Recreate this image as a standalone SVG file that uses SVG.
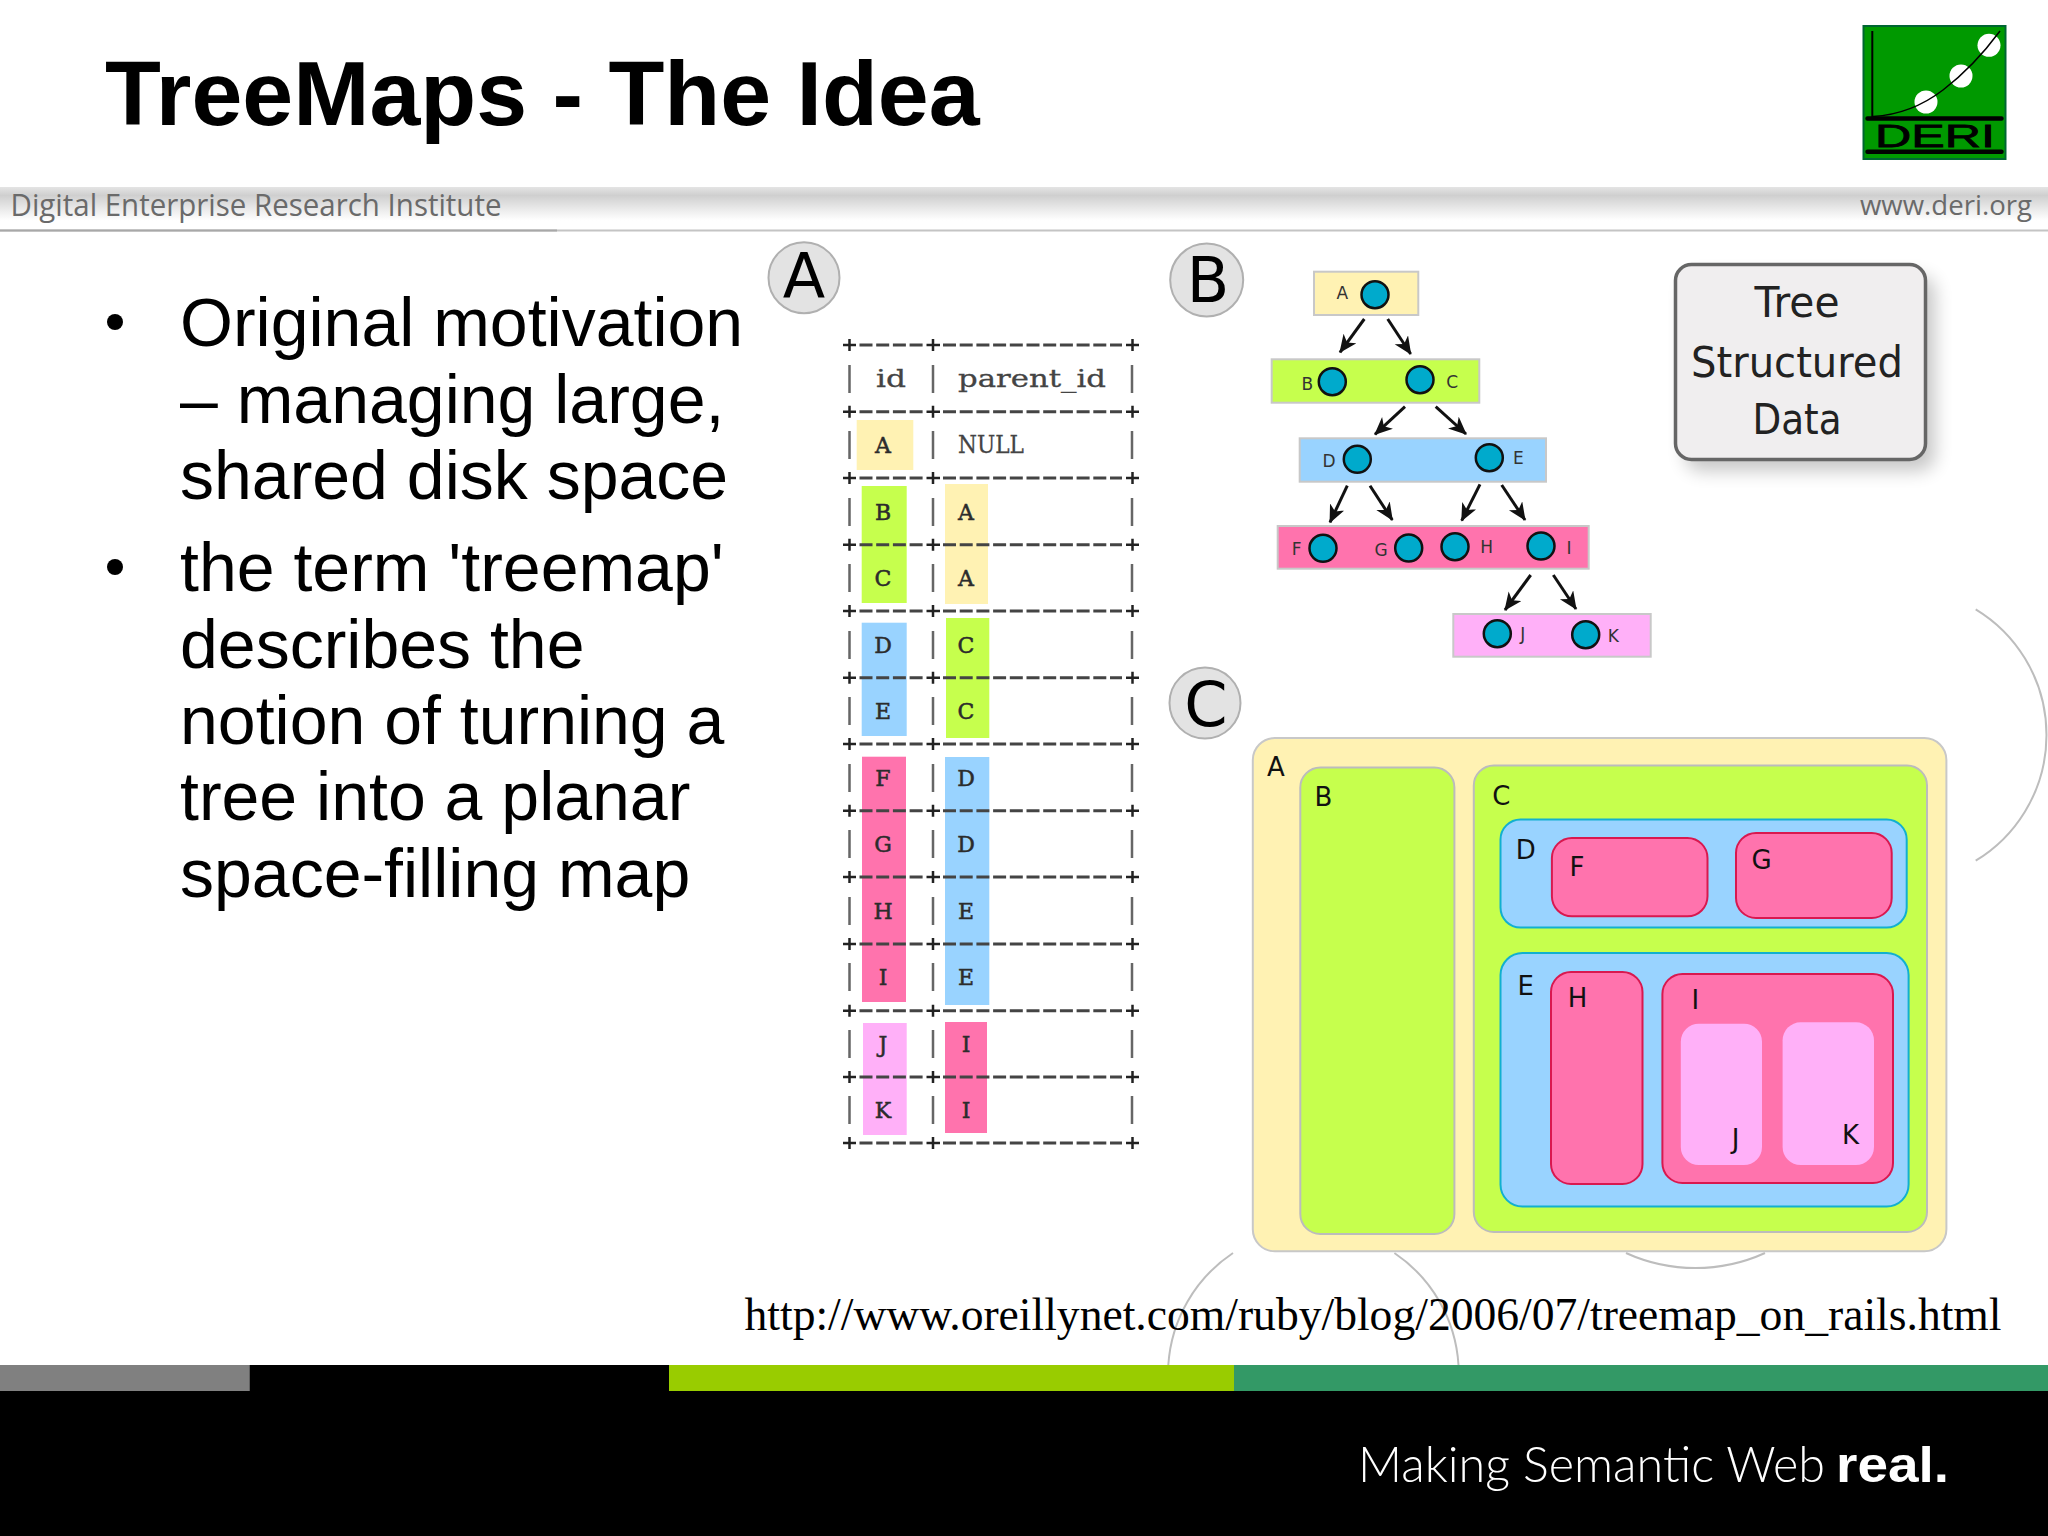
<svg xmlns="http://www.w3.org/2000/svg" xmlns:xlink="http://www.w3.org/1999/xlink" width="2048" height="1536" viewBox="0 0 2048 1536">
<style>
.sans{font-family:"Liberation Sans",Arial,sans-serif}
.body{font-family:"Liberation Sans",Arial,sans-serif;font-size:68px;fill:#000}
.mono{font-family:"DejaVu Serif","Liberation Serif",serif;font-size:22px;fill:#2c2c2c;stroke:#2c2c2c;stroke-width:0.5;text-anchor:middle}
.mono2{font-family:"DejaVu Serif","Liberation Serif",serif;font-size:24px;fill:#444;stroke:#444;stroke-width:0.3}
.tl{font-family:"DejaVu Sans",sans-serif;font-size:17px;fill:#333;text-anchor:middle}
.ml{font-family:"DejaVu Sans",sans-serif;font-size:26px;fill:#111;text-anchor:middle}
.big{font-family:"DejaVu Sans",sans-serif;font-size:62px;fill:#000;text-anchor:middle}
.tsd{font-family:"DejaVu Sans",sans-serif;font-size:43px;fill:#222;text-anchor:middle}
.bad{fill:#e3e3e3;stroke:#b0b0b0;stroke-width:2}
.nd{fill:#00aacc;stroke:#111;stroke-width:2.5}
.bar{stroke:#666;stroke-width:2.5;fill:none}
.dash{stroke:#444;stroke-width:3;stroke-dasharray:13 3.7;fill:none}
.plus{stroke:#222;stroke-width:2.5;fill:none}
.arc{fill:none;stroke:#bdbdbd;stroke-width:2}
.arrow{stroke:#111;stroke-width:3;fill:none;marker-end:url(#ah)}
.y{fill:#fff2b3}.g{fill:#c6ff4d}.b{fill:#99d3ff}.p{fill:#ff73ad}.l{fill:#ffb0f8}
.tb{stroke:#c8c8c8;stroke-width:2}
.sg{stroke:#bcbcbc;stroke-width:2}
.sb{stroke:#12b0cf;stroke-width:2}
.sp{stroke:#d9184f;stroke-width:2}
.h{font-family:"Open Sans","Liberation Sans",sans-serif;font-size:31px;fill:#6a6a6a}
</style>
<defs>
<linearGradient id="band" x1="0" y1="0" x2="0" y2="1">
<stop offset="0" stop-color="#e4e4e4"/>
<stop offset="0.2" stop-color="#cfcfcf"/>
<stop offset="0.55" stop-color="#ececec"/>
<stop offset="0.8" stop-color="#ffffff"/>
<stop offset="1" stop-color="#ffffff"/>
</linearGradient>
<filter id="sh" x="-20%" y="-20%" width="150%" height="150%"><feGaussianBlur stdDeviation="9"/></filter>
<marker id="ah" markerUnits="userSpaceOnUse" markerWidth="20" markerHeight="18" refX="17" refY="8" orient="auto">
<path d="M0 0 L18 8 L0 16 L5 8 Z" fill="#111"/>
</marker>
<g id="rl">
<path class="dash" d="M859.500 0H923M943 0H1122"/>
<path class="plus" d="M843 0H856M849.500 -6V6M926.500 0H940M933 -6V6M1126 0H1139M1132.500 -6V6"/>
</g>
<g id="rb">
<path class="bar" d="M849.500 -14V14M933 -14V14M1132 -14V14"/>
</g>
</defs>
<rect width="2048" height="1536" fill="#ffffff"/>

<g id="header">
<text class="sans" x="105" y="125" font-size="91.500" font-weight="bold" fill="#000">TreeMaps - The Idea</text>
<rect x="0" y="187" width="2048" height="42" fill="url(#band)"/>
<rect x="0" y="229.500" width="2048" height="2" fill="#c4c4c4"/>
<rect x="0" y="229.500" width="557" height="2" fill="#a8a8a8"/>
<text class="h" x="10.500" y="216" textLength="491" lengthAdjust="spacingAndGlyphs">Digital Enterprise Research Institute</text>
<text class="h" x="1860" y="215" style="font-size:28px" textLength="172" lengthAdjust="spacingAndGlyphs">www.deri.org</text>
</g>

<g id="logo">
<rect x="1863.500" y="26" width="142" height="133" fill="#009900" stroke="#063" stroke-width="2"/>
<path d="M1872.300 31V117" stroke="#000" stroke-width="2" fill="none"/>
<circle cx="1926" cy="102" r="11.500" fill="#fff"/>
<circle cx="1961" cy="76" r="11.500" fill="#fff"/>
<circle cx="1989" cy="45.300" r="11.500" fill="#fff"/>
<path d="M1873 116.500C1900 115 1922 106 1943 90S1980 58 2000 31" stroke="#000" stroke-width="1.500" fill="none"/>
<path d="M1867.500 118.500H2001.500M1867.500 151.700H2001.500" stroke="#000" stroke-width="4.500" stroke-linecap="round" fill="none"/>
<text class="sans" x="1875" y="146.700" font-size="32" fill="#000" stroke="#000" stroke-width="0.800" textLength="120" lengthAdjust="spacingAndGlyphs">DERI</text>
</g>

<g id="bullets">
<circle cx="115" cy="322" r="8" fill="#000"/>
<circle cx="115" cy="567" r="8" fill="#000"/>
<text class="body" x="180" y="346">Original motivation</text>
<text class="body" x="180" y="423">– managing large,</text>
<text class="body" x="180" y="499">shared disk space</text>
<text class="body" x="180" y="591">the term 'treemap'</text>
<text class="body" x="180" y="668">describes the</text>
<text class="body" x="180" y="744">notion of turning a</text>
<text class="body" x="180" y="820">tree into a planar</text>
<text class="body" x="180" y="897">space-filling map</text>
</g>

<g id="arcs">
<path class="arc" d="M1975.700 609.300A147 147 0 0 1 1975.700 860.700"/>
<path class="arc" d="M1233 1253A146 146 0 0 0 1168.300 1365"/>
<path class="arc" d="M1394.400 1253A146 146 0 0 1 1458.500 1365"/>
<path class="arc" d="M1626 1253A168 168 0 0 0 1765 1253"/>
</g>

<g id="badge-a"><circle class="bad" cx="804" cy="277.700" r="35.500"/><text class="big" x="804" y="298">A</text></g>
<g id="badge-b"><circle class="bad" cx="1206.700" cy="280" r="36.500"/><text class="big" x="1208" y="302">B</text></g>
<g id="badge-c"><circle class="bad" cx="1205" cy="703" r="35.500"/><text class="big" x="1206" y="726">C</text></g>

<g id="table">
<rect class="y" x="856.700" y="420" width="56.600" height="50"/>
<rect class="g" x="861.700" y="486" width="45" height="117"/>
<rect class="y" x="945" y="484" width="43" height="120"/>
<rect class="b" x="861.700" y="622.700" width="45" height="113.300"/>
<rect class="g" x="946" y="618" width="43.300" height="120"/>
<rect class="p" x="862" y="756.700" width="44" height="245.300"/>
<rect class="b" x="945" y="757" width="44.300" height="248"/>
<rect class="l" x="863" y="1023" width="43.700" height="112"/>
<rect class="p" x="945" y="1022" width="42" height="111"/>
<use xlink:href="#rl" href="#rl" y="345"/><use xlink:href="#rl" href="#rl" y="411.700"/><use xlink:href="#rl" href="#rl" y="478"/><use xlink:href="#rl" href="#rl" y="544.700"/><use xlink:href="#rl" href="#rl" y="611"/><use xlink:href="#rl" href="#rl" y="677.700"/><use xlink:href="#rl" href="#rl" y="744"/><use xlink:href="#rl" href="#rl" y="810.700"/><use xlink:href="#rl" href="#rl" y="877"/><use xlink:href="#rl" href="#rl" y="944"/><use xlink:href="#rl" href="#rl" y="1010.700"/><use xlink:href="#rl" href="#rl" y="1077"/><use xlink:href="#rl" href="#rl" y="1143"/>
<use xlink:href="#rb" href="#rb" y="379"/><use xlink:href="#rb" href="#rb" y="445"/><use xlink:href="#rb" href="#rb" y="512"/><use xlink:href="#rb" href="#rb" y="578"/><use xlink:href="#rb" href="#rb" y="645"/><use xlink:href="#rb" href="#rb" y="711"/><use xlink:href="#rb" href="#rb" y="778"/><use xlink:href="#rb" href="#rb" y="844"/><use xlink:href="#rb" href="#rb" y="911"/><use xlink:href="#rb" href="#rb" y="977"/><use xlink:href="#rb" href="#rb" y="1044"/><use xlink:href="#rb" href="#rb" y="1110"/>
<text class="mono2" x="876" y="387" textLength="30" lengthAdjust="spacingAndGlyphs">id</text>
<text class="mono2" x="958" y="387" textLength="148" lengthAdjust="spacingAndGlyphs">parent_id</text>
<text class="mono2" x="958" y="453" textLength="66" lengthAdjust="spacingAndGlyphs">NULL</text>
<g class="ids">
<text class="mono" x="883" y="452.500">A</text>
<text class="mono" x="883" y="519.500">B</text>
<text class="mono" x="883" y="585.500">C</text>
<text class="mono" x="883" y="652.500">D</text>
<text class="mono" x="883" y="718.500">E</text>
<text class="mono" x="883" y="785.500">F</text>
<text class="mono" x="883" y="851.500">G</text>
<text class="mono" x="883" y="918.500">H</text>
<text class="mono" x="883" y="984.500">I</text>
<text class="mono" x="883" y="1051.500">J</text>
<text class="mono" x="883" y="1117.500">K</text>
<text class="mono" x="966" y="519.500">A</text>
<text class="mono" x="966" y="585.500">A</text>
<text class="mono" x="966" y="652.500">C</text>
<text class="mono" x="966" y="718.500">C</text>
<text class="mono" x="966" y="785.500">D</text>
<text class="mono" x="966" y="851.500">D</text>
<text class="mono" x="966" y="918.500">E</text>
<text class="mono" x="966" y="984.500">E</text>
<text class="mono" x="966" y="1051.500">I</text>
<text class="mono" x="966" y="1117.500">I</text>
</g>
</g>

<g id="tree-levels">
<rect class="y tb" x="1314" y="271.700" width="104.300" height="43.300"/>
<rect class="g tb" x="1271.700" y="359.300" width="207.600" height="43.400"/>
<rect class="b tb" x="1299.700" y="438.300" width="246.300" height="43.400"/>
<rect class="p tb" x="1277.700" y="526" width="311" height="42.700"/>
<rect class="l tb" x="1453.300" y="614" width="197.400" height="42.700"/>
</g>
<g id="tree-connectors">
<path class="arrow" d="M1364.300 319L1340 352.300"/>
<path class="arrow" d="M1387.700 319L1410.700 354"/>
<path class="arrow" d="M1405 406.700L1375 434.300"/>
<path class="arrow" d="M1435.700 406.700L1466 434"/>
<path class="arrow" d="M1347.300 485.700L1330 522.300"/>
<path class="arrow" d="M1370 485.700L1392.300 520"/>
<path class="arrow" d="M1480 484.300L1461.700 520.700"/>
<path class="arrow" d="M1501.700 485L1525 520"/>
<path class="arrow" d="M1530.700 575L1505 610"/>
<path class="arrow" d="M1553.300 575L1576 609"/>
</g>
<g id="tree-a"><circle class="nd" cx="1375" cy="294.700" r="13.500"/><text class="tl" x="1342.300" y="299.300">A</text></g>
<g id="tree-b"><circle class="nd" cx="1332.300" cy="381.700" r="13.500"/><text class="tl" x="1307.300" y="390">B</text></g>
<g id="tree-c"><circle class="nd" cx="1420" cy="379.700" r="13.500"/><text class="tl" x="1452.300" y="388.300">C</text></g>
<g id="tree-d"><circle class="nd" cx="1357.300" cy="459.300" r="13.500"/><text class="tl" x="1329" y="466.700">D</text></g>
<g id="tree-e"><circle class="nd" cx="1489.300" cy="457.700" r="13.500"/><text class="tl" x="1518.300" y="464">E</text></g>
<g id="tree-f"><circle class="nd" cx="1323" cy="548.300" r="13.500"/><text class="tl" x="1296.700" y="555">F</text></g>
<g id="tree-g"><circle class="nd" cx="1408.700" cy="548" r="13.500"/><text class="tl" x="1381" y="555.700">G</text></g>
<g id="tree-h"><circle class="nd" cx="1455" cy="546.700" r="13.500"/><text class="tl" x="1486.700" y="553.300">H</text></g>
<g id="tree-i"><circle class="nd" cx="1541" cy="546" r="13.500"/><text class="tl" x="1569" y="554.300">I</text></g>
<g id="tree-j"><circle class="nd" cx="1497.300" cy="633.700" r="13.500"/><text class="tl" x="1522.700" y="640">J</text></g>
<g id="tree-k"><circle class="nd" cx="1585.700" cy="634.700" r="13.500"/><text class="tl" x="1613.300" y="642.300">K</text></g>

<g id="tree-structured-data">
<rect x="1685" y="276" width="250" height="195" rx="16" fill="#000" opacity="0.22" filter="url(#sh)"/>
<rect x="1675.500" y="264.500" width="250" height="195" rx="16" fill="#f0eeef" stroke="#666" stroke-width="3.500"/>
<text class="tsd" x="1797" y="316.700" textLength="85" lengthAdjust="spacingAndGlyphs">Tree</text>
<text class="tsd" x="1797" y="376.700" textLength="212" lengthAdjust="spacingAndGlyphs">Structured</text>
<text class="tsd" x="1797" y="434.300" textLength="89" lengthAdjust="spacingAndGlyphs">Data</text>
</g>

<g id="map-a"><rect class="y tb" x="1252.800" y="738" width="693.600" height="513.300" rx="22"/><text class="ml" x="1276" y="776">A</text></g>
<g id="map-b"><rect class="g sg" x="1300.300" y="767.500" width="154.100" height="466.500" rx="20"/><text class="ml" x="1323.500" y="805.500">B</text></g>
<g id="map-c"><rect class="g sg" x="1473.800" y="765.500" width="453.200" height="466.500" rx="20"/><text class="ml" x="1501.400" y="804.500">C</text></g>
<g id="map-d"><rect class="b sb" x="1500.500" y="819.500" width="406.200" height="108.100" rx="20"/><text class="ml" x="1525.700" y="859">D</text></g>
<g id="map-f"><rect class="p sp" x="1551.900" y="838" width="155.600" height="78.300" rx="20"/><text class="ml" x="1577" y="876.200">F</text></g>
<g id="map-g"><rect class="p sp" x="1736" y="833" width="155.700" height="85" rx="20"/><text class="ml" x="1761.700" y="868.600">G</text></g>
<g id="map-e"><rect class="b sb" x="1500.500" y="953" width="408.100" height="253.600" rx="22"/><text class="ml" x="1525.700" y="994.800">E</text></g>
<g id="map-h"><rect class="p sp" x="1551" y="972" width="91.500" height="212" rx="20"/><text class="ml" x="1577.500" y="1006.900">H</text></g>
<g id="map-i"><rect class="p sp" x="1662.400" y="974" width="230.600" height="209" rx="20"/><text class="ml" x="1695.300" y="1009">I</text></g>
<g id="map-j"><rect class="l" x="1680.800" y="1023.700" width="81.200" height="141.300" rx="18"/><text class="ml" x="1735.600" y="1147.600">J</text></g>
<g id="map-k"><rect class="l" x="1782.600" y="1022.300" width="91.400" height="142.700" rx="18"/><text class="ml" x="1850.500" y="1144">K</text></g>

<text id="source" x="744.500" y="1330" font-family="'Liberation Serif','Times New Roman',serif" font-size="46" fill="#000" textLength="1257" lengthAdjust="spacingAndGlyphs">http://www.oreillynet.com/ruby/blog/2006/07/treemap_on_rails.html</text>

<g id="footer">
<rect x="0" y="1365" width="249.500" height="26" fill="#808080"/>
<rect x="249.500" y="1365" width="419.500" height="26" fill="#000"/>
<rect x="669" y="1365" width="565" height="26" fill="#99cc00"/>
<rect x="1234" y="1365" width="814" height="26" fill="#339966"/>
<rect x="0" y="1391" width="2048" height="145" fill="#000"/>
<text x="1358" y="1482.300" font-family="Lato,'Liberation Sans',sans-serif" font-weight="300" font-size="50" fill="#fff" textLength="467" lengthAdjust="spacingAndGlyphs">Making Semantic Web</text>
<text x="1836" y="1482.300" font-family="'Liberation Sans',sans-serif" font-weight="bold" font-size="50" fill="#fff" textLength="113" lengthAdjust="spacingAndGlyphs">real.</text>
</g>
</svg>
